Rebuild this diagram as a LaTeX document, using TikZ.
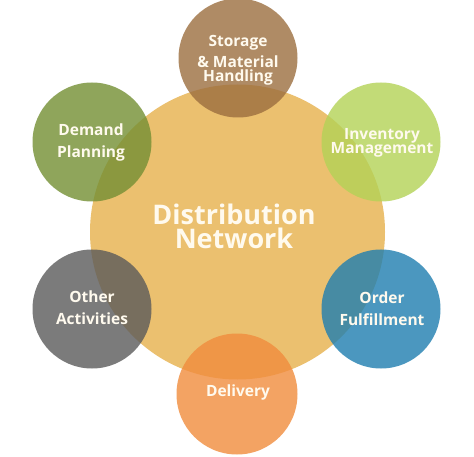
\documentclass[tikz,border=0pt]{standalone}
\usepackage{fontspec}
\setmainfont{Open Sans}
\definecolor{cCenter}{RGB}{235,192,111}
\definecolor{cStorage}{RGB}{156,110,63}
\definecolor{cDemand}{RGB}{115,143,51}
\definecolor{cInventory}{RGB}{179,210,86}
\definecolor{cOrder}{RGB}{30,126,176}
\definecolor{cDelivery}{RGB}{241,140,61}
\definecolor{cOther}{RGB}{90,90,90}
\definecolor{cText}{RGB}{255,250,238}
\begin{document}
\begin{tikzpicture}[x=1pt,y=-1pt,
  sat/.style={circle,minimum size=119pt,inner sep=0pt,fill opacity=0.8,text opacity=1},
  lbl/.style={text=cText,align=center,font=\fontsize{15.5}{17}\selectfont\bfseries,inner sep=0pt}]
\useasboundingbox (0,0) rectangle (474,457);
\fill[white] (0,0) rectangle (474,457);
\node[circle,minimum size=295pt,inner sep=0pt,fill=cCenter] (hub) at (237.5,232) {};
\node[sat,fill=cStorage] (storage) at (238,58) {};
\node[sat,fill=cDemand] (demand) at (92,142) {};
\node[sat,fill=cInventory] (inventory) at (381,142) {};
\node[sat,fill=cOther] (other) at (92,309) {};
\node[sat,fill=cOrder] (order) at (381,309) {};
\node[sat,fill=cDelivery,minimum size=121pt] (delivery) at (237,394) {};
\node[text=cText,align=center,font=\fontsize{27}{27}\selectfont\bfseries,inner sep=0pt] (hubt) at (234,226) {Distribution\\[-3pt]Network};
\node[lbl] (storaget) at (238,60) {Storage\\[4pt]\& Material\\[-3pt]Handling};
\node[lbl] (demandt) at (91,142) {Demand\\[5pt]Planning};
\node[lbl] (inventoryt) at (382,143) {Inventory\\[-3pt]Management};
\node[lbl] (othert) at (92,308) {Other\\[5pt]Activities};
\node[lbl] (ordert) at (382,309) {Order\\[5pt]Fulfillment};
\node[lbl] (deliveryt) at (238,392) {Delivery};
\end{tikzpicture}
\end{document}
